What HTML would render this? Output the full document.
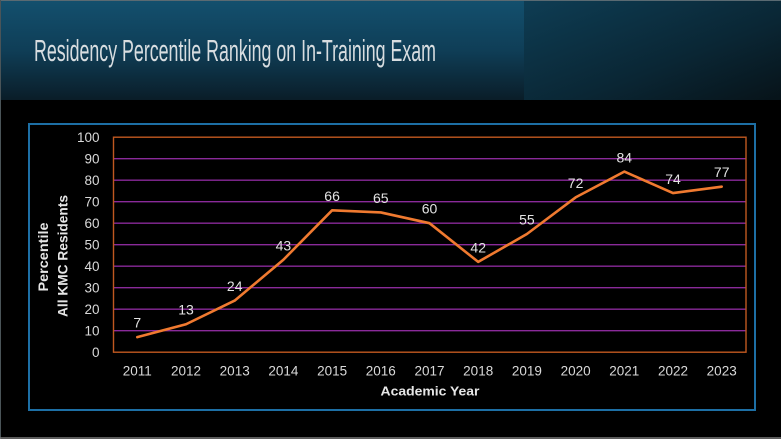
<!DOCTYPE html>
<html><head><meta charset="utf-8"><style>
html,body{margin:0;padding:0;background:#000;}
svg{display:block;}
</style></head><body>
<svg width="781" height="439" viewBox="0 0 781 439" xmlns="http://www.w3.org/2000/svg">
<defs>
<linearGradient id="hl" x1="0" y1="0" x2="0" y2="1">
<stop offset="0" stop-color="#13506e"/>
<stop offset="0.5" stop-color="#0f3e57"/>
<stop offset="1" stop-color="#0a1d28"/>
</linearGradient>
<linearGradient id="hr" x1="0" y1="0" x2="1" y2="1">
<stop offset="0" stop-color="#0e3d54"/>
<stop offset="0.6" stop-color="#0a2634"/>
<stop offset="1" stop-color="#071319"/>
</linearGradient>
</defs>
<rect x="0" y="0" width="781" height="439" fill="#000"/>
<rect x="0" y="0" width="524" height="100" fill="url(#hl)"/>
<rect x="524" y="0" width="257" height="100" fill="url(#hr)"/>
<line x1="0" y1="0.5" x2="781" y2="0.5" stroke="#5a6a72" stroke-width="1"/>
<line x1="0.5" y1="0" x2="0.5" y2="439" stroke="#4a5458" stroke-width="1"/>
<line x1="0" y1="438" x2="781" y2="438" stroke="#7a7a7a" stroke-width="1.5"/>
<text x="34" y="61" font-family="Liberation Sans, sans-serif" font-size="31" fill="#d8dde0" textLength="402" lengthAdjust="spacingAndGlyphs">Residency Percentile Ranking on In-Training Exam</text>

<rect x="29" y="124" width="726" height="286" fill="none" stroke="#1d6fa5" stroke-width="2"/>

<g stroke="#8a2a9a" stroke-width="1.3">
<line x1="113.5" x2="746" y1="330.7" y2="330.7"/>
<line x1="113.5" x2="746" y1="309.2" y2="309.2"/>
<line x1="113.5" x2="746" y1="287.7" y2="287.7"/>
<line x1="113.5" x2="746" y1="266.2" y2="266.2"/>
<line x1="113.5" x2="746" y1="244.7" y2="244.7"/>
<line x1="113.5" x2="746" y1="223.2" y2="223.2"/>
<line x1="113.5" x2="746" y1="201.7" y2="201.7"/>
<line x1="113.5" x2="746" y1="180.2" y2="180.2"/>
<line x1="113.5" x2="746" y1="158.7" y2="158.7"/>
</g>
<rect x="113.5" y="137.2" width="632.5" height="215" fill="none" stroke="#c05820" stroke-width="1.4"/>

<g font-family="Liberation Sans, sans-serif" font-size="13.5" fill="#d9d9d9" text-anchor="end">
<text x="99.5" y="357">0</text>
<text x="99.5" y="335.5">10</text>
<text x="99.5" y="314">20</text>
<text x="99.5" y="292.5">30</text>
<text x="99.5" y="271">40</text>
<text x="99.5" y="249.5">50</text>
<text x="99.5" y="228">60</text>
<text x="99.5" y="206.5">70</text>
<text x="99.5" y="185">80</text>
<text x="99.5" y="163.5">90</text>
<text x="99.5" y="142">100</text>
</g>

<g font-family="Liberation Sans, sans-serif" font-size="13.5" fill="#d9d9d9" text-anchor="middle">
<text x="137.3" y="375.5">2011</text>
<text x="186.0" y="375.5">2012</text>
<text x="234.7" y="375.5">2013</text>
<text x="283.4" y="375.5">2014</text>
<text x="332.1" y="375.5">2015</text>
<text x="380.8" y="375.5">2016</text>
<text x="429.5" y="375.5">2017</text>
<text x="478.2" y="375.5">2018</text>
<text x="526.9" y="375.5">2019</text>
<text x="575.6" y="375.5">2020</text>
<text x="624.3" y="375.5">2021</text>
<text x="673.0" y="375.5">2022</text>
<text x="721.7" y="375.5">2023</text>
</g>

<text x="430" y="395.5" font-family="Liberation Sans, sans-serif" font-size="13" font-weight="bold" fill="#e6e6e6" text-anchor="middle" textLength="99" lengthAdjust="spacingAndGlyphs">Academic Year</text>

<g font-family="Liberation Sans, sans-serif" font-size="13.5" font-weight="bold" fill="#e6e6e6" text-anchor="middle">
<text transform="translate(48,257) rotate(-90)" textLength="69" lengthAdjust="spacingAndGlyphs">Percentile</text>
<text transform="translate(67.5,256) rotate(-90)" textLength="122" lengthAdjust="spacingAndGlyphs">All KMC Residents</text>
</g>

<polyline fill="none" stroke="#f07a30" stroke-width="2.6" stroke-linejoin="round" stroke-linecap="round"
points="137.3,337.15 186.0,324.25 234.7,300.6 283.4,259.75 332.1,210.3 380.8,212.45 429.5,223.2 478.2,261.9 526.9,234.0 575.6,197.4 624.3,171.6 673.0,193.1 721.7,186.65"/>

<g font-family="Liberation Sans, sans-serif" font-size="14" fill="#e2e2e2" text-anchor="middle">
<text x="137.3" y="327.5">7</text>
<text x="186.0" y="314.5">13</text>
<text x="234.7" y="290.8">24</text>
<text x="283.4" y="250.5">43</text>
<text x="332.1" y="200.8">66</text>
<text x="380.8" y="203">65</text>
<text x="429.5" y="213.7">60</text>
<text x="478.2" y="252.5">42</text>
<text x="526.9" y="224.5">55</text>
<text x="575.6" y="188">72</text>
<text x="624.3" y="162.5">84</text>
<text x="673.0" y="183.8">74</text>
<text x="721.7" y="177.2">77</text>
</g>
</svg>
</body></html>
